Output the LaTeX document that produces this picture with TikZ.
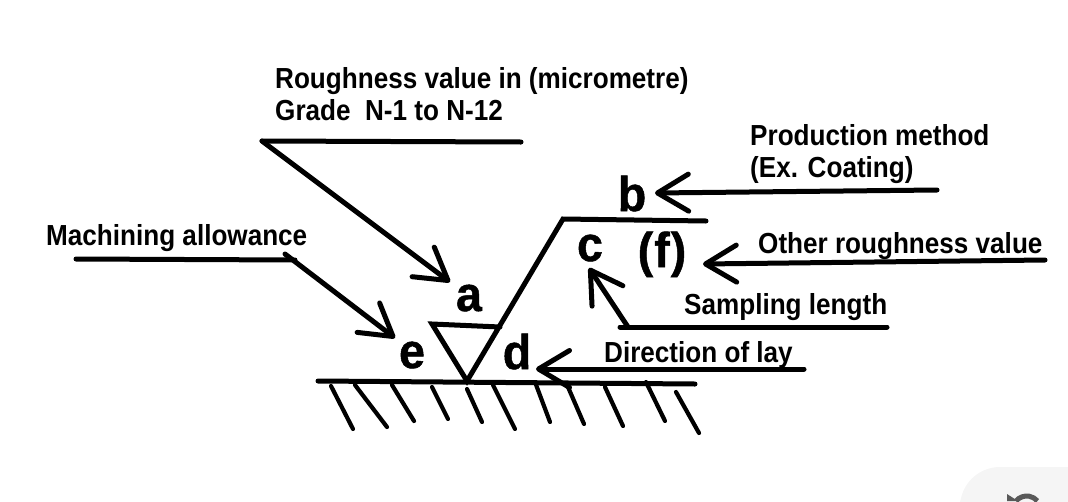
\documentclass[tikz,border=0pt]{standalone}
\usepackage{fontspec}
\setmainfont{Liberation Sans}[FakeStretch=0.9]
\newfontfamily\bigfont{Liberation Sans}[FakeStretch=0.95, BoldFeatures={FakeBold=1}]
\usetikzlibrary{arrows.meta}

\tikzset{
    line/.style={line width=5pt, line cap=round},
    hatch/.style={line width=4.2pt, line cap=round},
    arrowed/.style={line width=5pt, line cap=round, -{Straight Barb[length=31pt, width=37pt, line width=5pt, round]}},
    txt/.style={anchor=base west, inner sep=0pt, font=\fontsize{29}{32}\selectfont\bfseries},
    letter/.style={anchor=base, inner sep=0pt, font=\fontsize{49}{56}\bigfont\bfseries},
}

\begin{document}
\begin{tikzpicture}[x=1pt, y=-1pt]
    \useasboundingbox (0,0) rectangle (1068,501);

    % corner of the screenshot
    \fill[black!4, rounded corners=40pt] (960,540) -- (960,467) -- (1120,467) -- (1120,540) -- cycle;
    \clip (0,0) rectangle (1068,501);
    \draw[black!65, line width=5pt] (1016,501) arc[start angle=140, end angle=40, radius=14pt];
    \fill[black!65] (1007,494) -- (1007,501) -- (1018,501) -- cycle;

    % labels
    \node[txt] (rough) at (275,88) {Roughness value in (micrometre)};
    \node[txt] (grade) at (275,120) {Grade\ \ N-1 to N-12};
    \node[txt] (prod) at (750,145) {Production method};
    \node[txt] (coat) at (750,177) {(Ex. Coating)};
    \node[txt] (mach) at (46,245) {Machining allowance};
    \node[txt] (other) at (758,253) {Other roughness value};
    \node[txt] (samp) at (684,314) {Sampling length};
    \node[txt] (lay) at (604,362) {Direction of lay};

    % letters
    \node[letter] (a) at (469,311) {a};
    \node[letter] (b) at (632,211) {b};
    \node[letter] (c) at (590,261) {c};
    \node[letter] (f) at (662,267) {(\kern1pt f\kern1pt)};
    \node[letter] (d) at (517,369) {d};
    \node[letter] (e) at (412,368) {e};

    % symbol
    \coordinate (root) at (467,381);
    \coordinate (flag) at (432,324);
    \coordinate (flagEnd) at (500,327);
    \coordinate (top) at (563,219);
    \coordinate (topEnd) at (706,221);
    \draw[line] (flagEnd) -- (flag) -- (root) -- (top) -- (topEnd);

    % ground
    \coordinate (groundL) at (318,381);
    \coordinate (groundR) at (695,384);
    \draw[line] (groundL) -- (groundR);
    \foreach \xa/\ya/\xb/\yb in {331/386/353/429, 355/385/387/427, 392/385/414/421, 432/387/448/419,
        467/389/482/422, 493/385/515/429, 535/382/550/422, 568/387/584/424, 605/387/623/426,
        646/382/665/421, 676/392/699/433}
        \draw[hatch] (\xa,\ya) -- (\xb,\yb);

    % leaders
    \coordinate (roughL) at (262,141);
    \coordinate (roughR) at (521,142);
    \coordinate (machL) at (76,259);
    \coordinate (machR) at (295,260);
    \coordinate (machS) at (285,254);
    \coordinate (prodS) at (937,190);
    \coordinate (otherL) at (1045,260);
    \coordinate (sampL) at (620,327);
    \coordinate (sampR) at (887,327);
    \coordinate (sampS) at (628,327);
    \coordinate (layS) at (804,369);
    \coordinate (aTip) at (450,282);
    \coordinate (eTip) at (395,338);
    \coordinate (bTip) at (655,193);
    \coordinate (cTip) at (589,268);
    \coordinate (fTip) at (703,264);
    \coordinate (dTip) at (536,369);
    \draw[line] (roughL) -- (roughR);
    \draw[line] (machL) -- (machR);
    \draw[line] (sampL) -- (sampR);
    \draw[arrowed] (roughL) -- (aTip);
    \draw[arrowed] (machS) -- (eTip);
    \draw[arrowed] (prodS) -- (bTip);
    \draw[arrowed] (otherL) -- (fTip);
    \draw[arrowed] (sampS) -- (cTip);
    \draw[arrowed] (layS) -- (dTip);
\end{tikzpicture}
\end{document}
